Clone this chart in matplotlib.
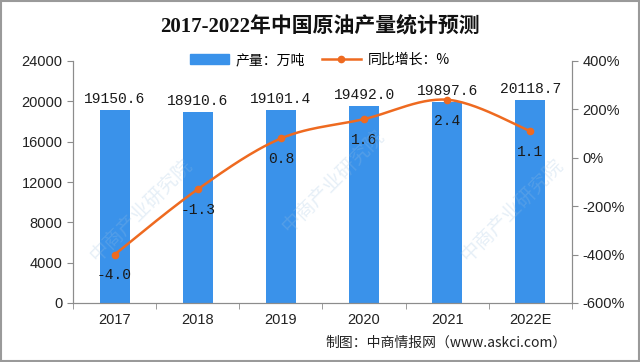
import numpy as np
import matplotlib
matplotlib.use("Agg")
import matplotlib.pyplot as plt
from matplotlib.patches import Rectangle, Patch
from matplotlib.lines import Line2D
from matplotlib.ticker import FixedLocator, FuncFormatter

# data
years = ["2017", "2018", "2019", "2020", "2021", "2022E"]
output = [19150.6, 18910.6, 19101.4, 19492.0, 19897.6, 20118.7]  # 万吨
growth = [-4.0, -1.3, 0.8, 1.6, 2.4, 1.1]  # %

bar_color = "#3A92EA"
line_color = "#EE6A20"
axis_color = "#8C8C8C"
cjk = ["Noto Sans CJK SC", "DejaVu Sans"]

fig = plt.figure(figsize=(6.4, 3.62), dpi=100)
ax = fig.add_axes([73 / 640, 1 - 303 / 362, 499 / 640, 242 / 362])
ax2 = ax.twinx()

x = np.arange(len(years))
ax.bar(x, output, width=0.36, color=bar_color, zorder=2)
ax.set_xlim(-0.5, len(years) - 0.5)
ax.set_ylim(0, 24000)
ax.set_yticks(np.arange(0, 24001, 4000))

# bar value labels
for xi, v in zip(x, output):
    ax.annotate(f"{v:.1f}", (xi, v), xytext=(0, 3), textcoords="offset points",
                ha="center", va="bottom", fontsize=10.5, family="Liberation Mono",
                color="#1a1a1a")


# smooth curve (catmull-rom) through the growth points, like excel's smoothed line
def smooth(xs, ys, n=30):
    xs = np.asarray(xs, float)
    ys = np.asarray(ys, float)
    px = np.concatenate([[xs[0]], xs, [xs[-1]]])
    py = np.concatenate([[ys[0]], ys, [ys[-1]]])
    outx, outy = [], []
    t = np.linspace(0, 1, n)
    for i in range(1, len(px) - 2):
        for arr, out in ((px, outx), (py, outy)):
            p0, p1, p2, p3 = arr[i - 1], arr[i], arr[i + 1], arr[i + 2]
            out.extend(0.5 * ((2 * p1) + (-p0 + p2) * t
                              + (2 * p0 - 5 * p1 + 4 * p2 - p3) * t ** 2
                              + (-p0 + 3 * p1 - 3 * p2 + p3) * t ** 3))
    return outx, outy


sx, sy = smooth(x, growth)
ax2.plot(sx, sy, color=line_color, lw=1.8, zorder=3)
ax2.plot(x, growth, "o", color=line_color, ms=4.5, zorder=4)
ax2.set_ylim(-6, 4)
ax2.set_yticks(np.arange(-6, 4.1, 2))
ax2.yaxis.set_major_formatter(FuncFormatter(lambda v, p: f"{v * 100:.0f}%"))

for xi, g in zip(x, growth):
    ax2.annotate(f"{g:.1f}", (xi, g), xytext=(0, -15), textcoords="offset points",
                 ha="center", va="center", fontsize=10.5, family="Liberation Mono",
                 color="#1a1a1a")

# axes styling
for a in (ax, ax2):
    a.spines["top"].set_visible(False)
    for s in ("left", "right", "bottom"):
        a.spines[s].set_color(axis_color)
    a.tick_params(axis="y", colors=axis_color, length=4, labelsize=10.5,
                  labelcolor="#222222")
    for lbl in a.get_yticklabels():
        lbl.set_family("Liberation Sans")
ax.set_xticks(x)
ax.set_xticklabels(years, fontsize=10.5, family="Liberation Sans", color="#222222")
ax.tick_params(axis="x", length=0, pad=7)
ax.xaxis.set_minor_locator(FixedLocator(np.arange(-0.5, len(years), 1)))
ax.tick_params(axis="x", which="minor", length=4, color=axis_color)

# title, legend, footer
fig.text(0.5, 1 - 27 / 362, "2017-2022年中国原油产量统计预测", ha="center", va="center",
         fontsize=15, fontweight="bold", family=["Liberation Serif", "Noto Sans CJK SC"],
         color="#111111")
handles = [Patch(color=bar_color),
           Line2D([0], [0], color=line_color, lw=1.8, marker="o", ms=4.5)]
fig.legend(handles, ["产量：万吨", "同比增长：%"], loc="center",
           bbox_to_anchor=(0.5, 1 - 60 / 362), ncol=2, frameon=False,
           prop={"family": cjk, "size": 10}, handlelength=2.8, columnspacing=1.2,
           handletextpad=0.5)
fig.text(567 / 640, 1 - 343 / 362, "制图：中商情报网（www.askci.com）", ha="right",
         va="center", fontsize=10, family=cjk, color="#222222")

# faint watermark
for wx, wy in [(0.22, 0.42), (0.52, 0.5), (0.8, 0.42)]:
    fig.text(wx, wy, "中商产业研究院", rotation=45, ha="center", va="center",
             fontsize=14, family=cjk, color="#9cc0e0", alpha=0.25, zorder=0)

# outer border
fig.patches.append(Rectangle((0.002, 0.003), 0.996, 0.994, transform=fig.transFigure,
                             fill=False, edgecolor="#9a9a9a", lw=1.5))

fig.savefig("out.png", dpi=100)
